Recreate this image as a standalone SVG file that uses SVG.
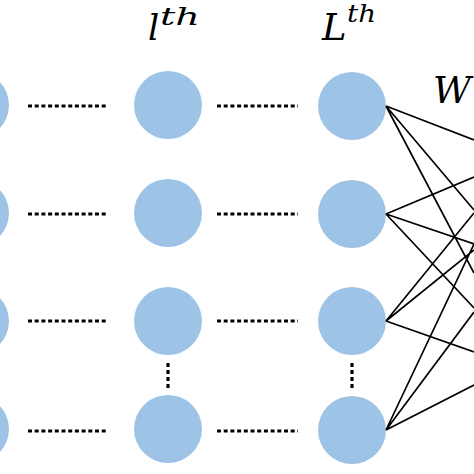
<svg xmlns="http://www.w3.org/2000/svg" width="474" height="474" viewBox="0 0 474 474">
<style>
.node{fill:#9dc3e6}
.dot{stroke:#000;stroke-width:3.2;stroke-dasharray:4 2.7;fill:none}
.vdot{stroke:#000;stroke-width:3.2;stroke-dasharray:4 3;fill:none}
.edge{stroke:#000;stroke-width:1.7;fill:none}
.lab{font-family:"DejaVu Serif","Liberation Serif",serif;font-style:italic;fill:#000}
</style>
<rect width="474" height="474" fill="#fff"/>
<g id="labels">
<text class="lab" x="148" y="40" font-size="35">l</text>
<text class="lab" x="160" y="25" font-size="25" textLength="40" lengthAdjust="spacingAndGlyphs">th</text>
<text class="lab" x="322" y="40" font-size="37">L</text>
<text class="lab" x="347" y="22" font-size="25" textLength="29" lengthAdjust="spacingAndGlyphs">th</text>
<text class="lab" x="433" y="103" font-size="37">W</text>
</g>
<g id="col-left">
<circle class="node" cx="-25" cy="105" r="34"/>
<circle class="node" cx="-25" cy="213" r="34"/>
<circle class="node" cx="-25" cy="321" r="34"/>
<circle class="node" cx="-25" cy="429" r="34"/>
</g>
<g id="col-l">
<circle id="l1" class="node" cx="168" cy="105" r="34"/>
<circle id="l2" class="node" cx="168" cy="213" r="34"/>
<circle id="l3" class="node" cx="168" cy="321" r="34"/>
<circle id="l4" class="node" cx="168" cy="429" r="34"/>
</g>
<g id="col-L">
<circle id="L1" class="node" cx="352" cy="106" r="34"/>
<circle id="L2" class="node" cx="352" cy="214" r="34"/>
<circle id="L3" class="node" cx="352" cy="321" r="34"/>
<circle id="L4" class="node" cx="352" cy="430" r="34"/>
</g>
<g id="connectors">
<path class="dot" d="M28 106H108M217 106H298M28 214H108M217 214H298M28 321H108M217 321H298M28 431H108M217 431H298"/>
<path class="vdot" d="M168 363V389M352 363V389"/>
<path class="edge" d="M386 106L474 140M386 106L474 210M386 106L474 273
M386 214L474 177M386 214L474 244M386 214L474 308
M386 321L474 213M386 321L474 250M386 321L474 352
M386 430L474 244M386 430L474 312M386 430L474 385"/>
</g>
</svg>
